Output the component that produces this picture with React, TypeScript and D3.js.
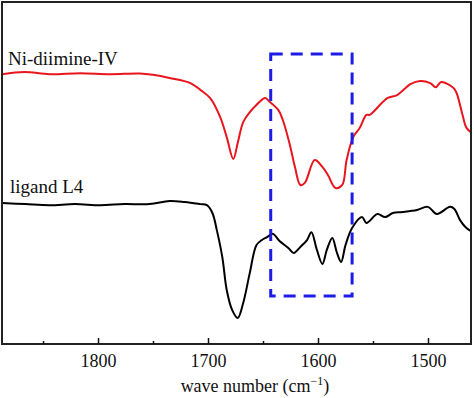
import * as React from 'react'
import * as d3 from 'd3'

// wavenumber (cm-1) / transmittance (a.u.)
const waveRed = [1887, 1867, 1844, 1816, 1789, 1762, 1750, 1735, 1716, 1707, 1698, 1689, 1683, 1677, 1673, 1668, 1662, 1656, 1648, 1644, 1636, 1632, 1626, 1621, 1616, 1612, 1603, 1596, 1591, 1584, 1578, 1574, 1568, 1562, 1556, 1553, 1537, 1528, 1516, 1507, 1498, 1493, 1488, 1477, 1474, 1469, 1465, 1460]
const tRed = [78.9, 79.5, 78.9, 79.2, 78.9, 79.1, 78.7, 77.8, 76.3, 74.3, 71.9, 66.4, 60.5, 54.1, 58.8, 64.9, 67.8, 69.9, 71.9, 70.8, 68.4, 65.5, 58.8, 51.8, 46.5, 47.1, 53.8, 51.8, 49.4, 45.6, 46.5, 53.8, 60.5, 63.2, 67.0, 67.0, 71.9, 72.8, 76.0, 76.9, 76.3, 75.1, 76.6, 74.9, 73.4, 67.5, 63.2, 61.7]

const waveBlack = [1887, 1866, 1844, 1821, 1798, 1776, 1753, 1735, 1721, 1707, 1701, 1696, 1692, 1687, 1683, 1678, 1673, 1668, 1662, 1656, 1651, 1646, 1641, 1635, 1627, 1622, 1616, 1610, 1606, 1601, 1596, 1592, 1587, 1583, 1579, 1575, 1569, 1560, 1556, 1546, 1539, 1532, 1523, 1510, 1500, 1492, 1480, 1476, 1471, 1466, 1461]
const tBlack = [41.2, 40.9, 40.6, 40.9, 40.6, 40.9, 40.9, 41.8, 41.5, 40.9, 40.6, 38.3, 33.3, 25.4, 15.8, 9.9, 7.6, 12.0, 20.8, 28.9, 30.4, 31.3, 32.2, 30.1, 28.1, 26.6, 28.4, 30.4, 32.7, 27.5, 23.4, 27.5, 31.0, 26.9, 24.0, 28.9, 33.9, 37.1, 35.4, 38.0, 37.1, 38.3, 38.6, 39.2, 40.1, 38.0, 40.1, 39.5, 36.3, 34.2, 33.0]

const majorTicks = [1800, 1700, 1600, 1500]
const minorTicks = [1850, 1750, 1650, 1550]
const boxWave = [1643, 1569]
const boxT = [14.0, 84.8]

const W = 474
const H = 398
const font = '"Liberation Serif", "Times New Roman", serif'

export default function App() {
	const axisRef = React.useRef<SVGGElement>(null)

	const x = d3.scaleLinear().domain([1887.3, 1460.9]).range([2, 471])
	const y = d3.scaleLinear().domain([0, 100]).range([344, 2])

	React.useEffect(() => {
		const g = d3.select(axisRef.current)
		g.selectAll('*').remove()
		const major = d3.axisBottom(x).tickValues(majorTicks).tickSize(-6).tickPadding(10).tickFormat(d3.format('d'))
		const minor = d3.axisBottom(x).tickValues(minorTicks).tickSize(-3).tickFormat(() => '')
		g.append('g').call(minor).call(s => s.select('.domain').remove())
		g.append('g').call(major).call(s => s.select('.domain').remove())
		g.selectAll('line').attr('stroke', '#111').attr('stroke-width', 1.5)
		g.selectAll('text').attr('font-family', font).attr('font-size', 18).attr('fill', '#111')
	})

	const line = d3.line<[number, number]>()
		.x(d => x(d[0]))
		.y(d => y(d[1]))
		.curve(d3.curveCatmullRom.alpha(0.5))

	const redPath = line(waveRed.map((w, i) => [w, tRed[i]]))
	const blackPath = line(waveBlack.map((w, i) => [w, tBlack[i]]))

	return (
		<svg width={W} height={H} style={{ position: 'absolute', left: 0, top: 0, background: '#fff' }}>
			<defs>
				<clipPath id="plot">
					<rect x={2} y={2} width={469} height={342} />
				</clipPath>
			</defs>
			<g clipPath="url(#plot)">
				<path d={redPath ?? ''} fill="none" stroke="#e8161c" strokeWidth={2} />
				<path d={blackPath ?? ''} fill="none" stroke="#000" strokeWidth={2} />
			</g>
			<rect
				x={x(boxWave[0])}
				y={y(boxT[1])}
				width={x(boxWave[1]) - x(boxWave[0])}
				height={y(boxT[0]) - y(boxT[1])}
				fill="none"
				stroke="#1c1ce6"
				strokeWidth={3}
				strokeDasharray="12 8"
			/>
			<rect x={2} y={2} width={469} height={342} fill="none" stroke="#222" strokeWidth={2} />
			<g ref={axisRef} transform="translate(0,344)" />
			<text x={8} y={65} fontFamily={font} fontSize={19} fill="#111">Ni-diimine-IV</text>
			<text x={10} y={193} fontFamily={font} fontSize={19} fill="#111">ligand L4</text>
			<text x={255} y={392} fontFamily={font} fontSize={18} fill="#111" textAnchor="middle">
				wave number (cm<tspan dy={-7} fontSize={12}>−1</tspan><tspan dy={7}>)</tspan>
			</text>
		</svg>
	)
}
